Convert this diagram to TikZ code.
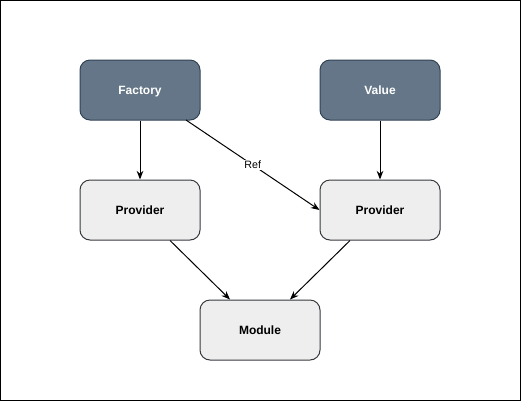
\documentclass[tikz,border=0pt]{standalone}
\usepackage{fontspec}
\setmainfont{Liberation Sans}
\usetikzlibrary{arrows.meta}
\definecolor{darkfill}{HTML}{647687}
\definecolor{darkline}{HTML}{314354}
\definecolor{lightfill}{HTML}{EEEEEE}
\definecolor{lightline}{HTML}{36393D}
\tikzset{
  box/.style={rectangle, rounded corners=7.5pt, minimum width=120*0.75pt, minimum height=60*0.75pt, font=\fontsize{9}{11}\selectfont\bfseries, line width=0.75pt, text height=1.6ex, text depth=0.4ex},
  darkbox/.style={box, fill=darkfill, draw=darkline, text=white},
  lightbox/.style={box, fill=lightfill, draw=lightline, text=black},
  conn/.style={-{Stealth[length=6.5pt,width=5pt]}, line width=0.75pt},
  lbl/.style={fill=white, inner sep=1pt, font=\fontsize{8}{10}\selectfont}
}
\begin{document}
\begin{tikzpicture}[x=0.75pt, y=-0.75pt]
\useasboundingbox (0,0) rectangle (521,401);
\draw[line width=0.75pt] (0.5,0.5) rectangle (520.5,400.5);
\node[darkbox] (factory) at (140,90) {Factory};
\node[darkbox] (value) at (380,90) {Value};
\node[lightbox] (prov1) at (140,210) {Provider};
\node[lightbox] (prov2) at (380,210) {Provider};
\node[lightbox] (module) at (260,330) {Module};
\coordinate (f1) at (186,120);
\draw[conn] (factory.south) -- (prov1.north);
\draw[conn] (value.south) -- (prov2.north);
\draw[conn] (f1) -- node[lbl, pos=0.5] (ref) {Ref} (prov2.west);
\draw[conn] ([xshift=30*0.75pt]prov1.south) -- ([xshift=-30*0.75pt]module.north);
\draw[conn] ([xshift=-30*0.75pt]prov2.south) -- ([xshift=30*0.75pt]module.north);
\end{tikzpicture}
\end{document}
